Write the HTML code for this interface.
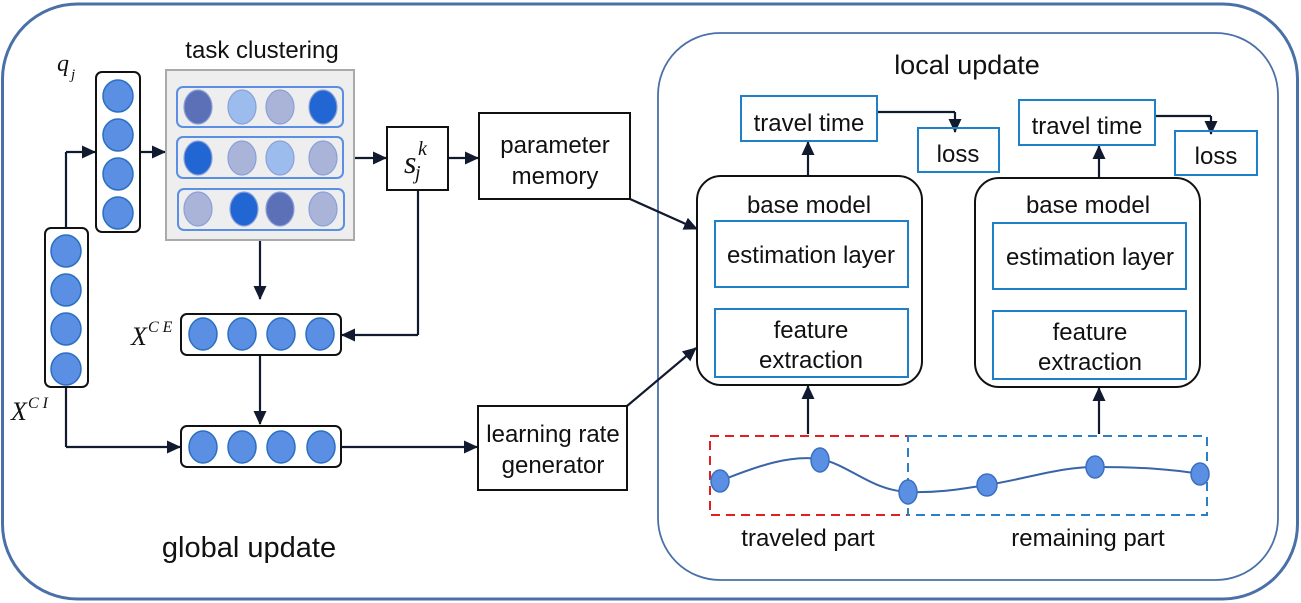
<!DOCTYPE html>
<html><head><meta charset="utf-8"><style>html,body{margin:0;padding:0;background:#fff}svg{display:block}text{font-family:"Liberation Sans",sans-serif;fill:#111}</style></head><body>
<svg width="1301" height="603" viewBox="0 0 1301 603" xmlns="http://www.w3.org/2000/svg">
<defs><marker id="a" markerWidth="14" markerHeight="14" refX="13" refY="6.5" orient="auto" markerUnits="userSpaceOnUse"><path d="M0,0 L14,6.5 L0,13 z" fill="#111a2e"/></marker></defs>
<rect x="2.5" y="4" width="1295" height="595" rx="75" fill="none" stroke="#4a70a8" stroke-width="3"/>
<rect x="658" y="33" width="620" height="547" rx="62" fill="none" stroke="#4a70a8" stroke-width="1.8"/>
<g stroke="#111a2e" stroke-width="2.2" fill="none">
<line x1="66" y1="228" x2="66" y2="152"/><line x1="66" y1="152" x2="95" y2="152" marker-end="url(#a)"/>
<line x1="140" y1="152" x2="165" y2="152" marker-end="url(#a)"/>
<line x1="354" y1="158" x2="386" y2="158" marker-end="url(#a)"/>
<line x1="448" y1="158" x2="478" y2="158" marker-end="url(#a)"/>
<line x1="260" y1="240" x2="260" y2="299" marker-end="url(#a)"/>
<polyline points="418,190 418,335"/><line x1="418" y1="335" x2="342" y2="335" marker-end="url(#a)"/>
<line x1="260" y1="355" x2="260" y2="424" marker-end="url(#a)"/>
<polyline points="66,387 66,447"/><line x1="66" y1="447" x2="180" y2="447" marker-end="url(#a)"/>
<line x1="341" y1="447" x2="477" y2="447" marker-end="url(#a)"/>
<line x1="627" y1="406" x2="696" y2="348" marker-end="url(#a)"/>
<line x1="630" y1="199" x2="697" y2="229" marker-end="url(#a)"/>
<line x1="808" y1="175" x2="808" y2="142" marker-end="url(#a)"/>
<polyline points="877,112 955,112"/><line x1="955" y1="112" x2="955" y2="132" marker-end="url(#a)"/>
<line x1="1099" y1="178" x2="1099" y2="146" marker-end="url(#a)"/>
<polyline points="1155,116 1211,116"/><line x1="1211" y1="116" x2="1211" y2="134" marker-end="url(#a)"/>
<line x1="808" y1="434" x2="808" y2="386" marker-end="url(#a)"/>
<line x1="1099" y1="434" x2="1099" y2="388" marker-end="url(#a)"/>
</g>
<rect x="45" y="228" width="43" height="159" rx="6" fill="#fff" stroke="#111" stroke-width="2"/>
<rect x="96" y="72" width="44" height="160" rx="6" fill="#fff" stroke="#111" stroke-width="2"/>
<g fill="#5a8fe3" stroke="#2a6fc0" stroke-width="1.5">
<ellipse cx="66" cy="251" rx="15" ry="16"/><ellipse cx="66" cy="290" rx="15" ry="16"/><ellipse cx="66" cy="329" rx="15" ry="16"/><ellipse cx="66" cy="369" rx="15" ry="16"/>
<ellipse cx="118" cy="96" rx="15" ry="16"/><ellipse cx="118" cy="135" rx="15" ry="16"/><ellipse cx="118" cy="174" rx="15" ry="16"/><ellipse cx="118" cy="213" rx="15" ry="16"/>
</g>
<rect x="166" y="70" width="188" height="170" fill="#eeeeee" stroke="#aaa" stroke-width="2"/>
<g fill="none" stroke="#5a8fe3" stroke-width="2">
<rect x="177" y="87" width="166" height="40" rx="6"/><rect x="177" y="137" width="166" height="41" rx="6"/><rect x="178" y="189" width="166" height="41" rx="6"/>
</g>
<g stroke="#8aa0d8" stroke-width="1.2">
<ellipse cx="198" cy="107" rx="14" ry="17" fill="#5b70b6"/><ellipse cx="242" cy="107" rx="14" ry="17" fill="#9dbcee"/><ellipse cx="280" cy="107" rx="14" ry="17" fill="#aab4d8"/><ellipse cx="323" cy="107" rx="14" ry="17" fill="#2266d4"/>
<ellipse cx="198" cy="158" rx="14" ry="17" fill="#2266d4"/><ellipse cx="242" cy="158" rx="14" ry="17" fill="#aab4d8"/><ellipse cx="280" cy="158" rx="14" ry="17" fill="#9dbcee"/><ellipse cx="323" cy="158" rx="14" ry="17" fill="#aab4d8"/>
<ellipse cx="198" cy="209" rx="14" ry="17" fill="#aab4d8"/><ellipse cx="244" cy="209" rx="14" ry="17" fill="#2266d4"/><ellipse cx="280" cy="209" rx="14" ry="17" fill="#5b70b6"/><ellipse cx="323" cy="209" rx="14" ry="17" fill="#aab4d8"/>
</g>
<rect x="387" y="127" width="61" height="63" fill="#fff" stroke="#111" stroke-width="2"/>
<rect x="479" y="113" width="151" height="86" fill="#fff" stroke="#111" stroke-width="2"/>
<rect x="181" y="314" width="160" height="41" rx="6" fill="#fff" stroke="#111" stroke-width="2"/>
<rect x="181" y="426" width="160" height="41" rx="6" fill="#fff" stroke="#111" stroke-width="2"/>
<g fill="#5a8fe3" stroke="#2a6fc0" stroke-width="1.5">
<ellipse cx="203" cy="334" rx="14" ry="16"/><ellipse cx="242" cy="334" rx="14" ry="16"/><ellipse cx="281" cy="334" rx="14" ry="16"/><ellipse cx="320" cy="334" rx="14" ry="16"/>
<ellipse cx="203" cy="447" rx="14" ry="16"/><ellipse cx="242" cy="447" rx="14" ry="16"/><ellipse cx="281" cy="447" rx="14" ry="16"/><ellipse cx="321" cy="447" rx="14" ry="16"/>
</g>
<rect x="478" y="406" width="149" height="84" fill="#fff" stroke="#111" stroke-width="2"/>
<g fill="none" stroke-width="2">
<rect x="697" y="176" width="225" height="209" rx="24" stroke="#111"/>
<rect x="975" y="178" width="225" height="209" rx="24" stroke="#111"/>
<g stroke="#1f7fc8">
<rect x="715" y="221" width="193" height="66"/><rect x="715" y="309" width="193" height="68"/>
<rect x="993" y="223" width="193" height="66"/><rect x="993" y="311" width="193" height="68"/>
<rect x="741" y="96" width="136" height="45"/><rect x="1019" y="100" width="136" height="45"/>
<rect x="918" y="128" width="81" height="44"/><rect x="1175" y="131" width="82" height="44"/>
</g>
<rect x="710" y="436" width="198" height="79" stroke="#e02020" stroke-dasharray="9,6"/>
<rect x="908" y="436" width="299" height="79" stroke="#2a80c8" stroke-dasharray="9,6"/>
<path d="M720,481 C760,465 790,455 820,459 C850,465 870,490 908,492 C940,493 960,489 987,485 C1030,478 1060,467 1095,467 C1140,467 1170,469 1200,474" stroke="#3a64a8" stroke-width="2"/>
</g>
<g fill="#5a8fe3" stroke="#3a70c0" stroke-width="1.5">
<ellipse cx="720" cy="481" rx="9" ry="11"/><ellipse cx="820" cy="460" rx="9" ry="12"/><ellipse cx="908" cy="492" rx="9" ry="12"/><ellipse cx="987" cy="485" rx="10" ry="11"/><ellipse cx="1095" cy="467" rx="9" ry="11"/><ellipse cx="1200" cy="474" rx="9" ry="11"/>
</g>
<g font-size="24" text-anchor="middle">
<text x="262" y="58">task clustering</text>
<text x="555" y="153">parameter</text><text x="555" y="184">memory</text>
<text x="553" y="442">learning rate</text><text x="553" y="473">generator</text>
<text x="809" y="131">travel time</text><text x="1087" y="134">travel time</text>
<text x="958" y="162">loss</text><text x="1216" y="164">loss</text>
<text x="809" y="213">base model</text><text x="1088" y="213">base model</text>
<text x="811" y="263">estimation layer</text><text x="1090" y="265">estimation layer</text>
<text x="811" y="338">feature</text><text x="811" y="368">extraction</text>
<text x="1090" y="340">feature</text><text x="1090" y="370">extraction</text>
<text x="808" y="546">traveled part</text><text x="1088" y="546">remaining part</text>
<text x="967" y="74" font-size="27">local update</text>
<text x="249" y="557" font-size="29">global update</text>
</g>
<g font-style="italic">
<text x="57" y="71" font-size="24" style="font-family:'Liberation Serif',serif">q</text><text x="71" y="79" font-size="15" style="font-family:'Liberation Serif',serif">j</text>
<text x="404" y="173" font-size="32" style="font-family:'Liberation Serif',serif">s</text><text x="418" y="155" font-size="20" style="font-family:'Liberation Serif',serif">k</text><text x="415" y="179" font-size="20" style="font-family:'Liberation Serif',serif">j</text>
<text x="131" y="345" font-size="26" style="font-family:'Liberation Serif',serif">X</text><text x="148" y="332" font-size="16" style="font-family:'Liberation Serif',serif">C E</text>
<text x="11" y="420" font-size="26" style="font-family:'Liberation Serif',serif">X</text><text x="28" y="408" font-size="16" style="font-family:'Liberation Serif',serif">C I</text>
</g>
</svg>
</body></html>
